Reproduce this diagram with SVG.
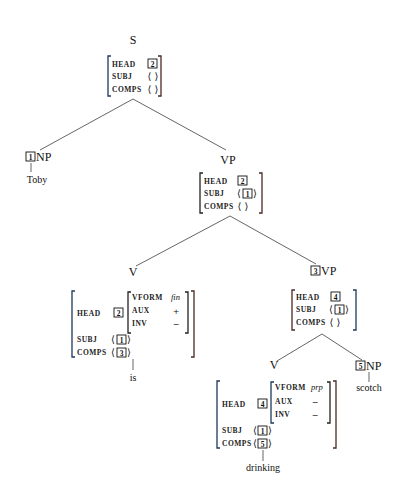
<svg xmlns="http://www.w3.org/2000/svg" width="408" height="485" viewBox="0 0 408 485">
<style>
.lab{font-family:"Liberation Serif",serif;font-size:12px;fill:#111}
.word{font-family:"Liberation Serif",serif;font-size:10px;fill:#111}
.f{font-family:"Liberation Serif",serif;font-size:7.5px;font-weight:bold;fill:#222;letter-spacing:0.5px}
.v{font-family:"Liberation Serif",serif;font-size:8.5px;font-style:italic;fill:#111}
.sym{font-family:"DejaVu Serif",serif;font-size:8px;fill:#111}
.ang{font-family:"DejaVu Serif",serif;font-size:10px;fill:#111}
.n{font-family:"Liberation Serif",serif;font-size:7.5px;font-weight:bold;fill:#111;text-anchor:middle}
.box{fill:none;stroke:#111;stroke-width:0.9}
.bk{fill:none;stroke-width:1.3}
.c1{stroke:#1e3a5a}
.c2{stroke:#4a2a24}
.c3{stroke:#222}
.edge{fill:none;stroke:#222;stroke-width:0.7}
</style>
<g id="connectors">
<path class="edge" d="M133,99 L40,150"/>
<path class="edge" d="M133,99 L226,150"/>
<path class="edge" d="M31,163 L31,172"/>
<path class="edge" d="M230,216 L136,266"/>
<path class="edge" d="M230,216 L316,264"/>
<path class="edge" d="M133,359 L133,370"/>
<path class="edge" d="M322,334 L277,361"/>
<path class="edge" d="M322,334 L362,360"/>
<path class="edge" d="M369,372 L369,382"/>
<path class="edge" d="M263,450 L263,461"/>
</g>
<g id="S">
<text class="lab" x="133" y="44" text-anchor="middle">S</text>
<path class="bk c1" d="M111,56 H108 V96 H111"/>
<path class="bk c2" d="M158,56 H161 V96 H158"/>
<text class="f" x="112" y="67">HEAD</text>
<text class="f" x="112" y="79">SUBJ</text>
<text class="f" x="112" y="92">COMPS</text>
<rect class="box" x="148" y="59" width="9" height="9"/><text class="n" x="152.5" y="66.5">2</text>
<text class="ang" x="153" y="80" text-anchor="middle">⟨ ⟩</text>
<text class="ang" x="153" y="93" text-anchor="middle">⟨ ⟩</text>
</g>
<g id="NP1">
<rect class="box" x="26" y="152" width="9" height="9"/><text class="n" x="30.5" y="159.5">1</text>
<text class="lab" x="36" y="161">NP</text>
<text class="word" x="37" y="183" text-anchor="middle">Toby</text>
</g>
<g id="VP1">
<text class="lab" x="228" y="164" text-anchor="middle">VP</text>
<path class="bk c3" d="M203,173 H200 V213 H203"/>
<path class="bk c2" d="M259,173 H262 V213 H259"/>
<text class="f" x="204" y="184">HEAD</text>
<text class="f" x="204" y="196">SUBJ</text>
<text class="f" x="204" y="209">COMPS</text>
<rect class="box" x="238" y="176" width="9" height="9"/><text class="n" x="242.5" y="183.5">2</text>
<text class="ang" x="237" y="197">⟨</text><rect class="box" x="243" y="189" width="9" height="9"/><text class="n" x="247.5" y="196.5">1</text><text class="ang" x="253" y="197">⟩</text>
<text class="ang" x="243" y="210" text-anchor="middle">⟨ ⟩</text>
</g>
<g id="V1">
<text class="lab" x="133" y="276" text-anchor="middle">V</text>
<path class="bk c1" d="M75,291 H72 V357 H75"/>
<path class="bk c2" d="M191,291 H194 V357 H191"/>
<text class="f" x="77" y="316">HEAD</text>
<rect class="box" x="114" y="308" width="9" height="9"/><text class="n" x="118.5" y="315.5">2</text>
<path class="bk c3" d="M131,292 H128 V333 H131"/>
<path class="bk c3" d="M185,292 H188 V333 H185"/>
<text class="f" x="132" y="300">VFORM</text>
<text class="f" x="132" y="313">AUX</text>
<text class="f" x="132" y="326">INV</text>
<text class="v" x="171" y="300">fin</text>
<text class="sym" x="176" y="314" text-anchor="middle">+</text>
<text class="sym" x="176" y="327" text-anchor="middle">−</text>
<text class="f" x="77" y="342">SUBJ</text>
<text class="f" x="77" y="355">COMPS</text>
<text class="ang" x="111" y="343">⟨</text><rect class="box" x="117" y="335" width="9" height="9"/><text class="n" x="121.5" y="342.5">1</text><text class="ang" x="127" y="343">⟩</text>
<text class="ang" x="111" y="356">⟨</text><rect class="box" x="117" y="348" width="9" height="9"/><text class="n" x="121.5" y="355.5">3</text><text class="ang" x="127" y="356">⟩</text>
<text class="word" x="133" y="381" text-anchor="middle">is</text>
</g>
<g id="VP2">
<rect class="box" x="311" y="266" width="9" height="9"/><text class="n" x="315.5" y="273.5">3</text>
<text class="lab" x="321" y="275">VP</text>
<path class="bk c2" d="M295,290 H292 V330 H295"/>
<path class="bk c1" d="M353,290 H356 V330 H353"/>
<text class="f" x="296" y="300">HEAD</text>
<text class="f" x="296" y="312">SUBJ</text>
<text class="f" x="296" y="325">COMPS</text>
<rect class="box" x="331" y="292" width="9" height="9"/><text class="n" x="335.5" y="299.5">4</text>
<text class="ang" x="329" y="313">⟨</text><rect class="box" x="335" y="305" width="9" height="9"/><text class="n" x="339.5" y="312.5">1</text><text class="ang" x="345" y="313">⟩</text>
<text class="ang" x="335" y="326" text-anchor="middle">⟨ ⟩</text>
</g>
<g id="NP2">
<rect class="box" x="356" y="361" width="9" height="9"/><text class="n" x="360.5" y="368.5">5</text>
<text class="lab" x="366" y="370">NP</text>
<text class="word" x="369" y="391" text-anchor="middle">scotch</text>
</g>
<g id="V2">
<text class="lab" x="274" y="369" text-anchor="middle">V</text>
<path class="bk c1" d="M220,381 H217 V448 H220"/>
<path class="bk c2" d="M333,381 H336 V448 H333"/>
<text class="f" x="222" y="407">HEAD</text>
<rect class="box" x="258" y="399" width="9" height="9"/><text class="n" x="262.5" y="406.5">4</text>
<path class="bk c1" d="M274,382 H271 V423 H274"/>
<path class="bk c3" d="M327,382 H330 V423 H327"/>
<text class="f" x="275" y="390">VFORM</text>
<text class="f" x="275" y="404">AUX</text>
<text class="f" x="275" y="417">INV</text>
<text class="v" x="311" y="390">prp</text>
<text class="sym" x="315" y="405" text-anchor="middle">−</text>
<text class="sym" x="315" y="418" text-anchor="middle">−</text>
<text class="f" x="222" y="433">SUBJ</text>
<text class="f" x="222" y="446">COMPS</text>
<text class="ang" x="253" y="434">⟨</text><rect class="box" x="258" y="426" width="9" height="9"/><text class="n" x="262.5" y="433.5">1</text><text class="ang" x="268" y="434">⟩</text>
<text class="ang" x="253" y="447">⟨</text><rect class="box" x="258" y="439" width="9" height="9"/><text class="n" x="262.5" y="446.5">5</text><text class="ang" x="268" y="447">⟩</text>
<text class="word" x="263" y="471" text-anchor="middle">drinking</text>
</g>
</svg>
